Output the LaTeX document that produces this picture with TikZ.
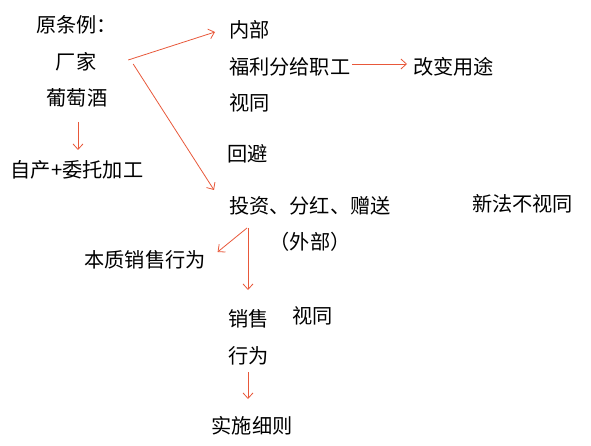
\documentclass[tikz,border=0pt]{standalone}
\usepackage{fontspec}
\setmainfont{Noto Sans CJK SC}
\usetikzlibrary{arrows.meta,calc}
\definecolor{arrc}{RGB}{232,88,58}
\begin{document}
\begin{tikzpicture}[x=1pt,y=-1pt,
  lbl/.style={inner sep=0pt,outer sep=0pt,font=\fontsize{20.2}{21}\selectfont},
  lft/.style={lbl,anchor=west},
  arr/.style={draw=arrc,line width=0.8pt,-{Straight Barb[length=5.5pt,width=10pt,line width=0.8pt]}}]
\useasboundingbox (0,0) rectangle (591,446);
\node[lft] (yuan) at (36,25) {原条例：};
\node[lbl] (jia) at (76,62) {厂家};
\node[lbl] (putao) at (77,98) {葡萄酒};
\node[lbl] (zichan) at (77,170) {自产+委托加工};
\node[lft] (neibu) at (229,30) {内部};
\node[lft] (fuli) at (229,67) {福利分给职工};
\node[lft] (gaibian) at (413,67) {改变用途};
\node[lft] (shitong) at (229,103) {视同};
\node[lft] (huibi) at (227,154) {回避};
\node[lft] (touzi) at (229,206) {投资、分红、赠送};
\node[lft] (xinfa) at (472,204) {新法不视同};
\node[lbl] (waibu) at (310,242) {（外部）};
\node[lbl] (benzhi) at (145,260) {本质销售行为};
\node[lft] (xiaoshou) at (228,319) {销售};
\node[lft] (shitong2) at (292,316) {视同};
\node[lft] (xingwei) at (228,356) {行为};
\node[lbl] (shishi) at (252,426) {实施细则};

\draw[arr] ($(putao.center)+(1,24)$) -- ($(zichan.center)+(1,-20)$);
\draw[arr] ($(jia.east)+(32,-2)$) -- ($(neibu.west)+(-14,2)$);
\draw[arr] ($(jia.east)+(37,2)$) -- ($(touzi.west)+(-15,-16)$);
\draw[arr] ($(fuli.east)+(2,-3)$) -- ($(gaibian.west)+(-6,-3)$);
\draw[arr] ($(touzi.west)+(18,22)$) -- ($(benzhi.east)+(12,-8)$);
\draw[arr] ($(touzi.west)+(19,22)$) -- ($(xiaoshou.west)+(20,-29)$);
\draw[arr] ($(xingwei.west)+(20,16)$) -- ($(shishi.center)+(-4,-27)$);
\end{tikzpicture}
\end{document}
